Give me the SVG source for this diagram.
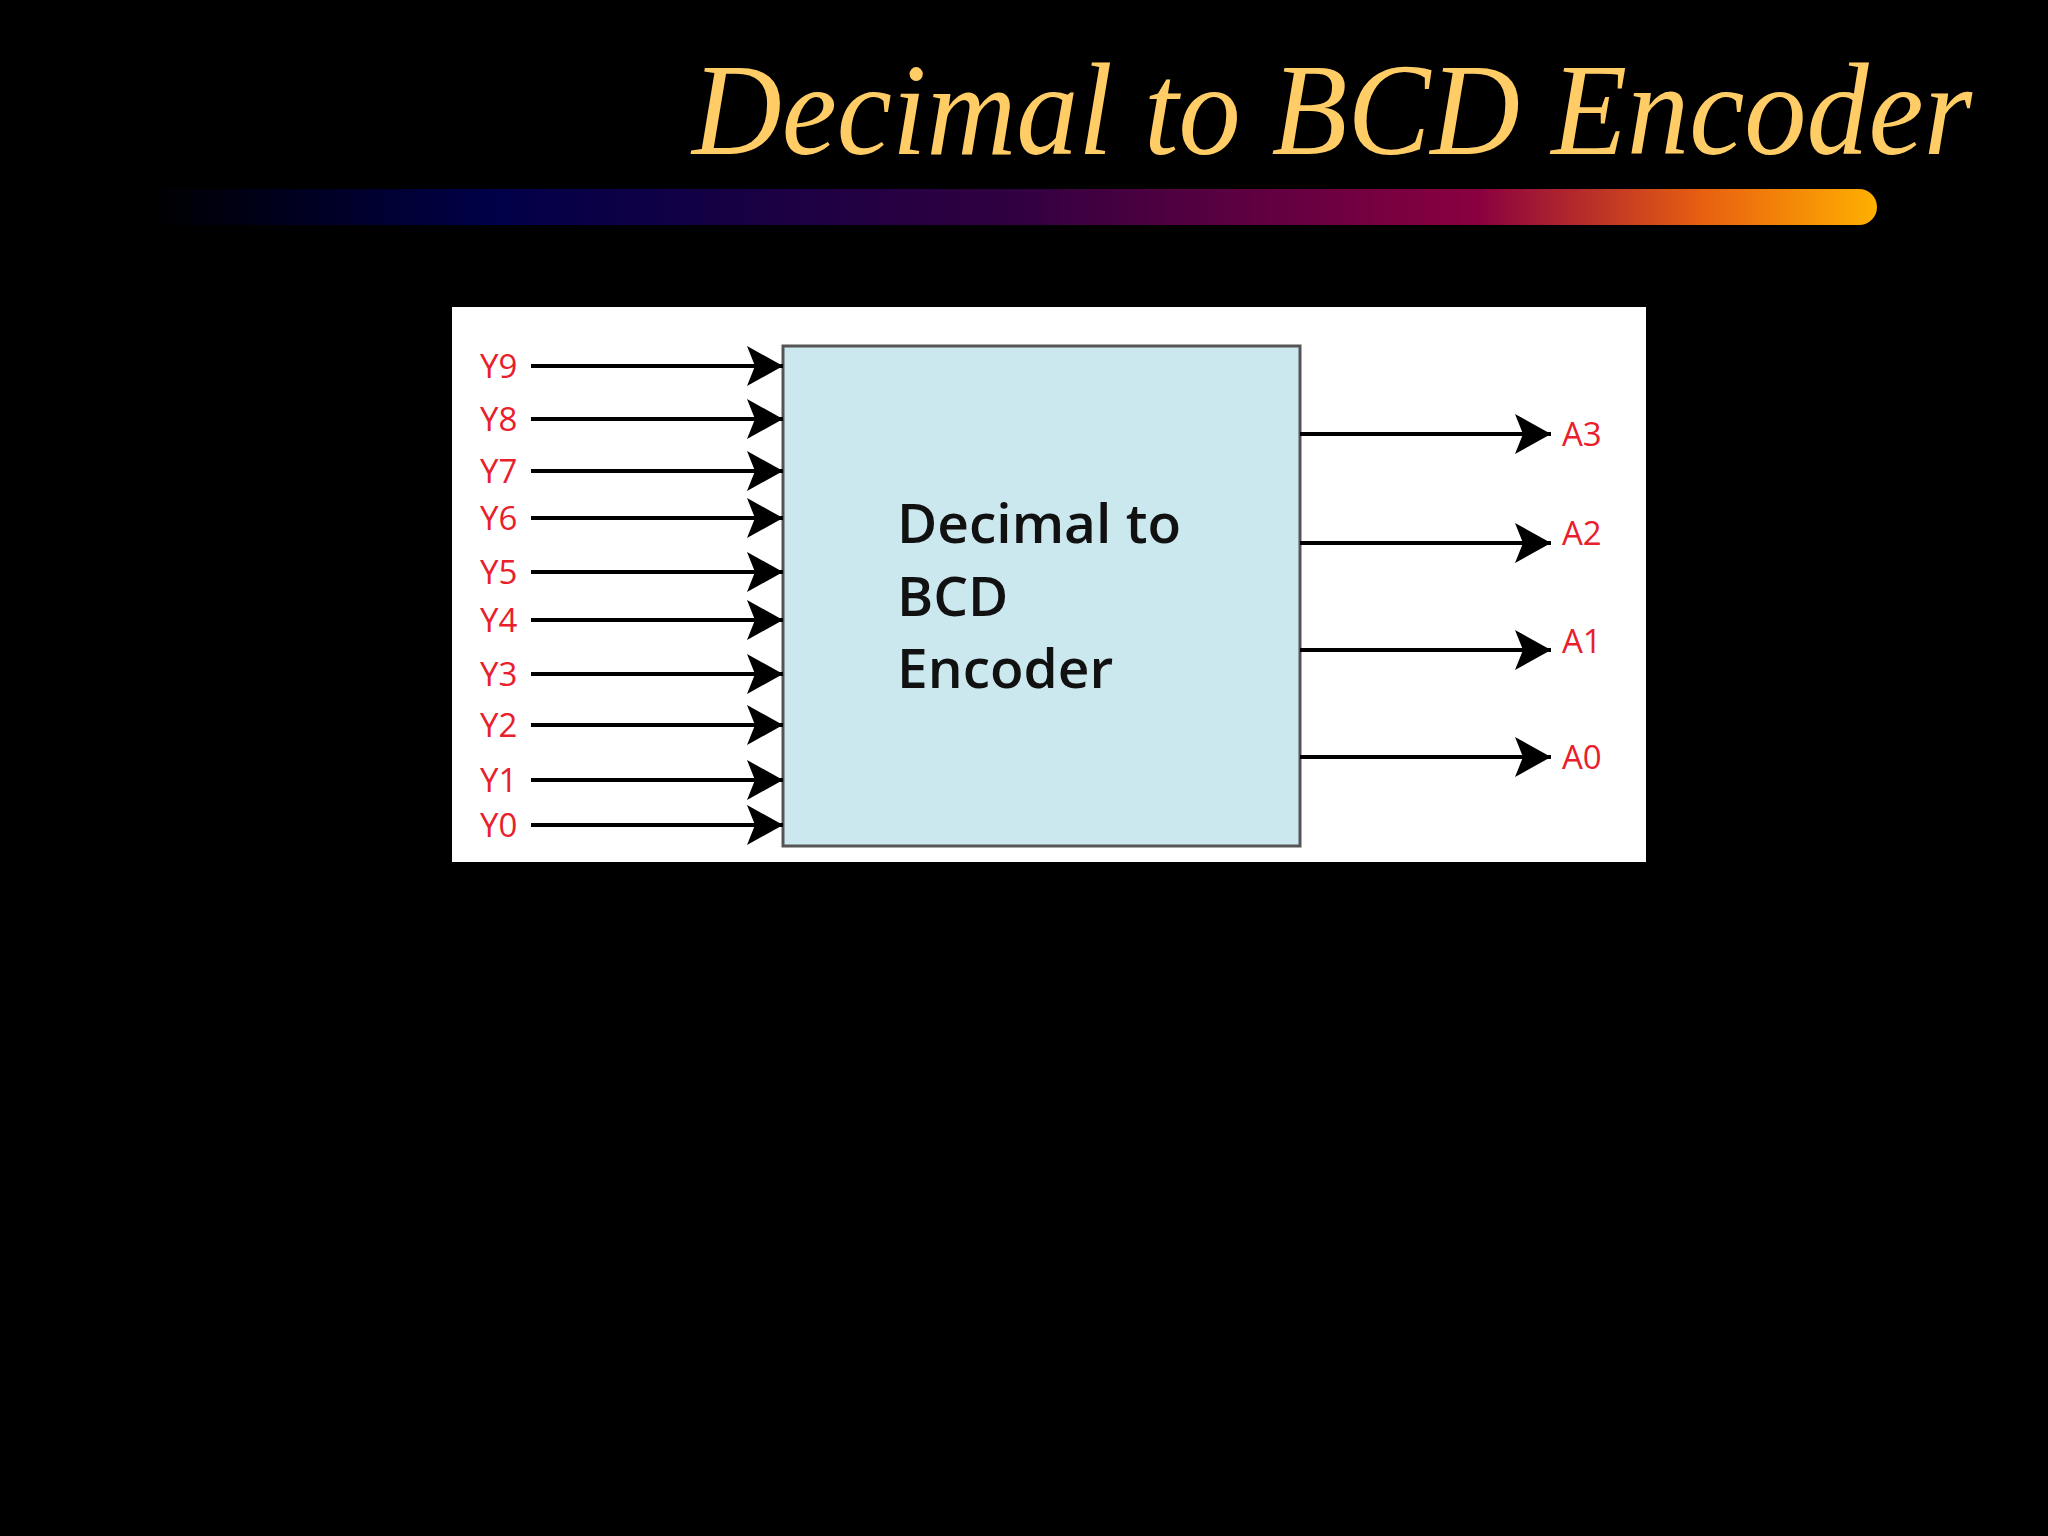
<svg xmlns="http://www.w3.org/2000/svg" width="2048" height="1536" viewBox="0 0 2048 1536">
<style>
.lbl{font-family:"Open Sans","Noto Sans",sans-serif;font-size:33px;font-weight:500;fill:#e8202c}
.w{stroke:#000;stroke-width:4;fill:none}
.bt{font-family:"Open Sans","Noto Sans",sans-serif;font-size:55px;font-weight:600;fill:#111}
</style>
<defs>
<linearGradient id="g" x1="0" x2="1" y1="0" y2="0">
<stop offset="0" stop-color="#000"/>
<stop offset="0.2" stop-color="#000048"/>
<stop offset="0.5" stop-color="#300040"/>
<stop offset="0.77" stop-color="#8a0040"/>
<stop offset="0.9" stop-color="#e86010"/>
<stop offset="1" stop-color="#ffb000"/>
</linearGradient>
<marker id="ah" markerUnits="userSpaceOnUse" markerWidth="40" markerHeight="44" refX="36" refY="22" orient="auto">
<path d="M36,22 L0,2 L8,22 L0,42 Z" fill="#000"/>
</marker>
</defs>
<rect width="2048" height="1536" fill="#000"/>
<text x="1972" y="154" text-anchor="end" textLength="1280" lengthAdjust="spacingAndGlyphs" font-family="Liberation Serif,serif" font-style="italic" font-size="132" fill="#ffcc66">Decimal to BCD Encoder</text>
<path d="M144,189 H1859 A18,18 0 0 1 1859,225 H144 Z" fill="url(#g)"/>
<rect x="452" y="307" width="1194" height="555" fill="#fff"/>
<g id="encoder">
<rect x="783" y="346" width="517" height="500" fill="#cce8ef" stroke="#555" stroke-width="3"/>
<text class="bt" x="897" y="543">Decimal to</text>
<text class="bt" x="897" y="616">BCD</text>
<text class="bt" x="897" y="688">Encoder</text>
</g>
<g id="connectors">
<line class="w" x1="531" y1="366" x2="783" y2="366" marker-end="url(#ah)"/>
<line class="w" x1="531" y1="419" x2="783" y2="419" marker-end="url(#ah)"/>
<line class="w" x1="531" y1="471" x2="783" y2="471" marker-end="url(#ah)"/>
<line class="w" x1="531" y1="518" x2="783" y2="518" marker-end="url(#ah)"/>
<line class="w" x1="531" y1="572" x2="783" y2="572" marker-end="url(#ah)"/>
<line class="w" x1="531" y1="620" x2="783" y2="620" marker-end="url(#ah)"/>
<line class="w" x1="531" y1="674" x2="783" y2="674" marker-end="url(#ah)"/>
<line class="w" x1="531" y1="725" x2="783" y2="725" marker-end="url(#ah)"/>
<line class="w" x1="531" y1="780" x2="783" y2="780" marker-end="url(#ah)"/>
<line class="w" x1="531" y1="825" x2="783" y2="825" marker-end="url(#ah)"/>
<line class="w" x1="1300" y1="434" x2="1551" y2="434" marker-end="url(#ah)"/>
<line class="w" x1="1300" y1="543" x2="1551" y2="543" marker-end="url(#ah)"/>
<line class="w" x1="1300" y1="650" x2="1551" y2="650" marker-end="url(#ah)"/>
<line class="w" x1="1300" y1="757" x2="1551" y2="757" marker-end="url(#ah)"/>
</g>
<g id="labels">
<text class="lbl" x="480" y="378">Y9</text>
<text class="lbl" x="480" y="431">Y8</text>
<text class="lbl" x="480" y="483">Y7</text>
<text class="lbl" x="480" y="530">Y6</text>
<text class="lbl" x="480" y="584">Y5</text>
<text class="lbl" x="480" y="632">Y4</text>
<text class="lbl" x="480" y="686">Y3</text>
<text class="lbl" x="480" y="737">Y2</text>
<text class="lbl" x="480" y="792">Y1</text>
<text class="lbl" x="480" y="837">Y0</text>
<text class="lbl" x="1562" y="446">A3</text>
<text class="lbl" x="1562" y="545">A2</text>
<text class="lbl" x="1562" y="653">A1</text>
<text class="lbl" x="1562" y="769">A0</text>
</g>
</svg>
